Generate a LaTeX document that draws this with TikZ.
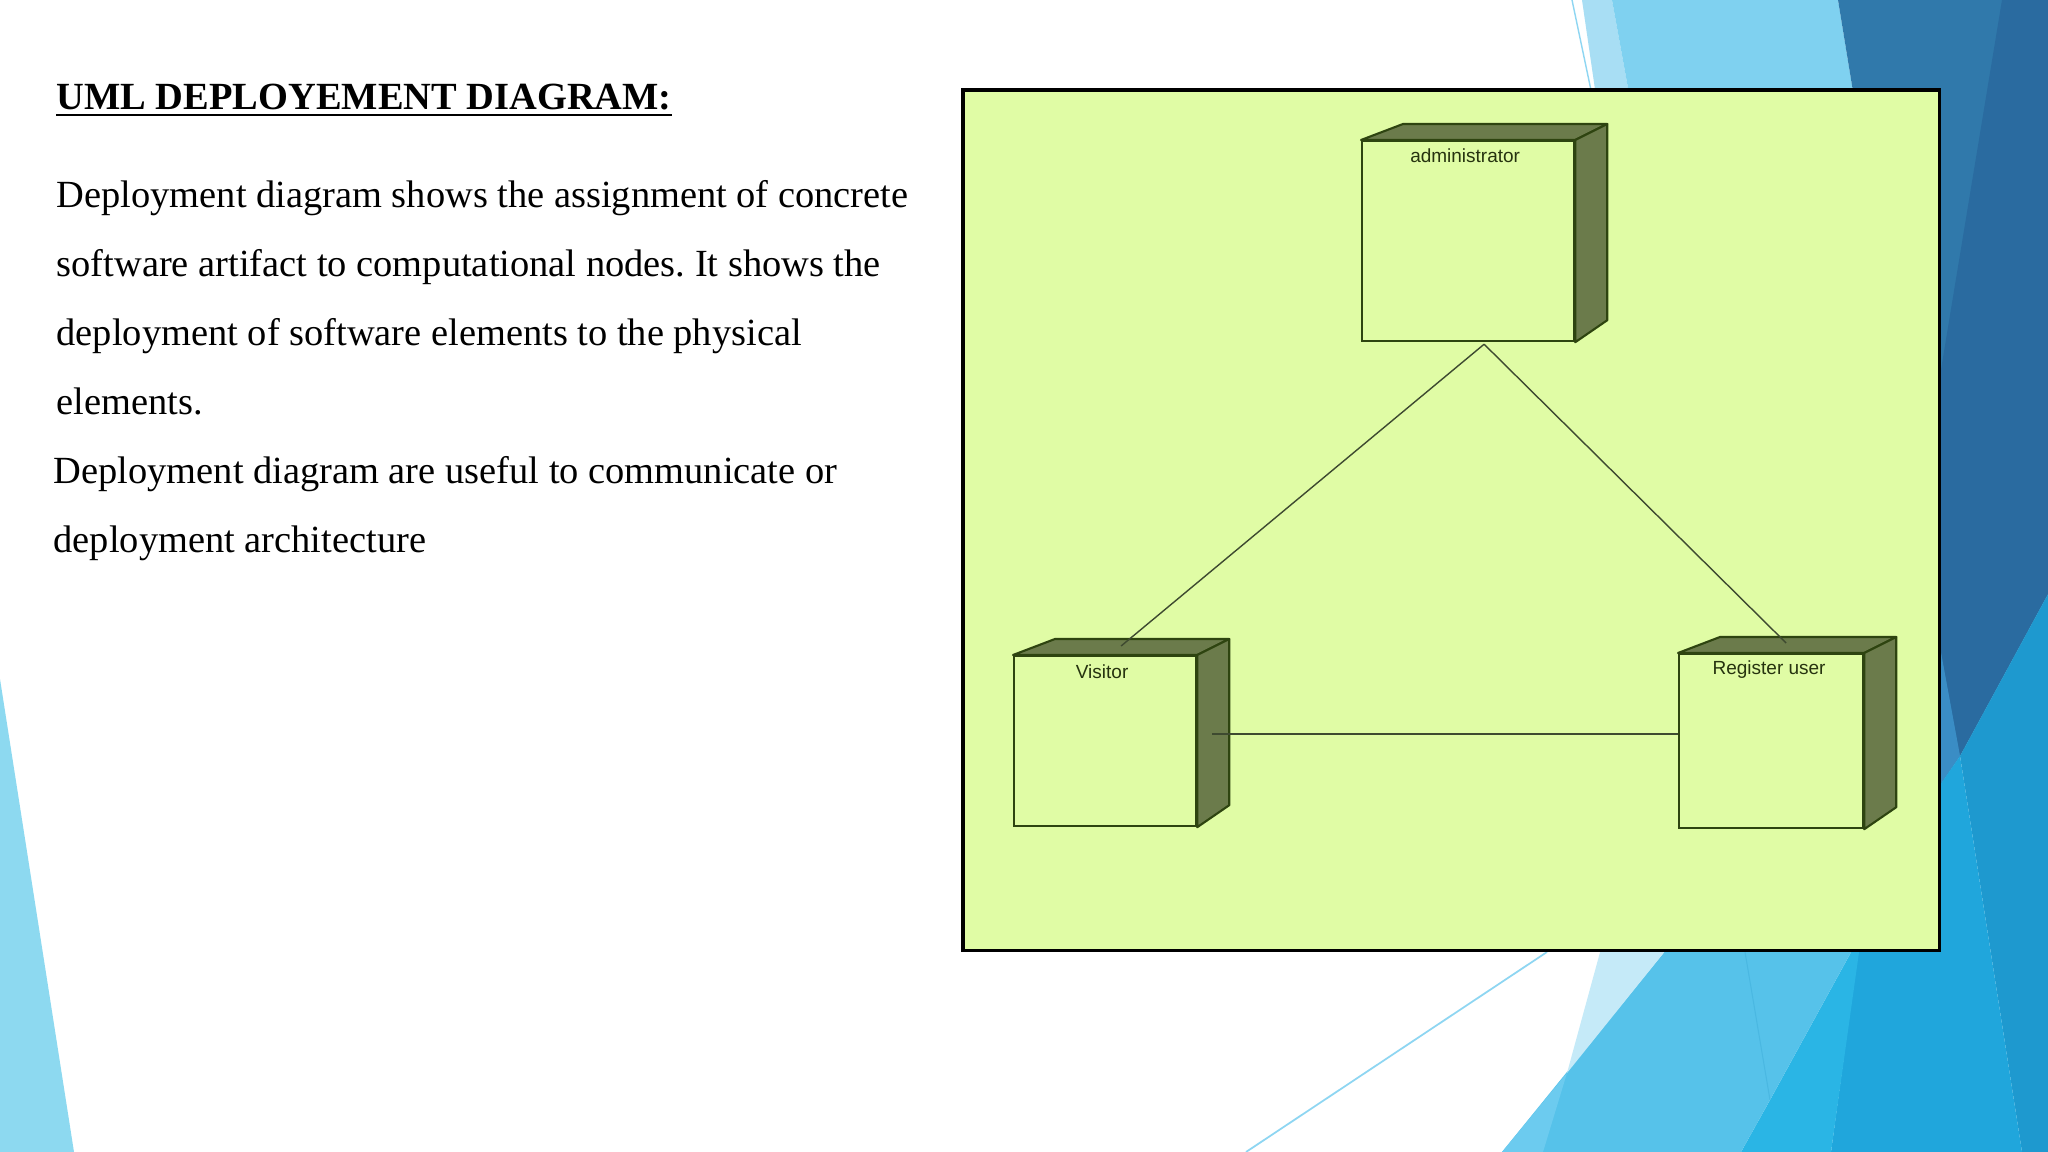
\documentclass[tikz,border=0pt]{standalone}
\usepackage{fontspec}
\setmainfont{Liberation Serif}
\newfontfamily\labelfont{Liberation Sans}
\usetikzlibrary{calc}
\frenchspacing
\definecolor{leftblue}{HTML}{8DD9F0}
\definecolor{paleblue}{HTML}{A8DEF4}
\definecolor{topblue}{HTML}{7FD1F0}
\definecolor{darkA}{HTML}{3079AB}
\definecolor{darkB}{HTML}{2A6BA0}
\definecolor{wedgeblue}{HTML}{3A8DC5}
\definecolor{medB}{HTML}{1E99CF}
\definecolor{medA}{HTML}{20A6DC}
\definecolor{brightA}{HTML}{2AB5E5}
\definecolor{skyA}{HTML}{56C2EA}
\definecolor{skyL}{HTML}{6CCBEF}
\definecolor{paleB}{HTML}{C5EAF8}
\definecolor{thinblue}{HTML}{8ED6F2}
\definecolor{diagfill}{HTML}{E0FCA5}
\definecolor{nodedark}{HTML}{6B7B4B}
\definecolor{nodeline}{HTML}{2E4410}
\definecolor{connline}{HTML}{3E4A30}
\definecolor{labelcol}{HTML}{26330F}
\definecolor{faintline}{HTML}{4AB8E2}
\tikzset{
  bodytext/.style={font=\fontsize{10.93}{13}\selectfont, anchor=base west, inner sep=0pt},
  umlfront/.style={draw=nodeline, fill=diagfill, line width=0.6pt, inner sep=0pt, anchor=north west},
  umlshade/.style={fill=nodedark, draw=nodeline, line width=0.6pt, line join=round},
  umllabel/.style={font=\labelfont\fontsize{5.4}{6.5}\selectfont, text=labelcol, anchor=base, inner sep=0pt},
  conn/.style={draw=connline, line width=0.4pt},
}
\begin{document}
\begin{tikzpicture}[x=0.01cm,y=-0.01cm]
\useasboundingbox (0,0) rectangle (2048,1152);
\fill[white] (0,0) rectangle (2048,1152);
% background facets
\fill[leftblue] (0,679) -- (74,1152) -- (0,1152) -- cycle;
\fill[paleblue] (1582,0) -- (1612,0) -- (1632,110) -- (1598,110) -- cycle;
\fill[topblue] (1612,0) -- (1838,0) -- (1856,110) -- (1632,110) -- cycle;
\draw[thinblue, line width=0.4pt] (1572,0) -- (1592,95);
\fill[darkA] (1838,0) -- (2048,0) -- (2048,594) -- (1960,756) -- (1930,800) -- (1930,110) -- (1856,110) -- cycle;
\fill[darkB] (2002,0) -- (2048,0) -- (2048,594) -- (1960,756) -- (1935,620) -- (1935,406) -- cycle;
\fill[wedgeblue] (1935,620) -- (1960,756) -- (1935,792) -- cycle;
\fill[medB] (1960,756) -- (2048,594) -- (2048,1152) -- (2022,1152) -- cycle;
\fill[medA] (1935,792) -- (1960,756) -- (2022,1152) -- (1831,1152) -- (1859,945) -- (1935,945) -- cycle;
\fill[brightA] (1855,945) -- (1860,945) -- (1831,1152) -- (1741,1152) -- (1770,1100) -- cycle;
\fill[skyA] (1670,945) -- (1855,945) -- (1770,1100) -- (1741,1152) -- (1502,1152) -- cycle;
\fill[paleB] (1602,945) -- (1670,945) -- (1567,1073) -- cycle;
\fill[skyL] (1567,1073) -- (1543,1152) -- (1502,1152) -- cycle;
\draw[faintline, line width=0.3pt] (1745,952) -- (1770,1100);
\draw[thinblue, line width=0.5pt] (1547,952) -- (1246,1152);
% text
\node[bodytext, font=\fontsize{10.93}{13}\selectfont\bfseries] (title) at (56,110) {UML DEPLOYEMENT DIAGRAM:};
\draw[line width=0.8pt] ($(title.base west)+(0,5)$) -- ($(title.base east)+(0,5)$);
\node[bodytext] (line1) at (56,208) {Deployment diagram shows the assignment of concrete};
\node[bodytext] (line2) at (56,277) {software artifact to computational nodes. It shows the};
\node[bodytext] (line3) at (56,346) {deployment of software elements to the physical};
\node[bodytext] (line4) at (56,415) {elements.};
\node[bodytext] (line5) at (53,484) {Deployment diagram are useful to communicate or};
\node[bodytext] (line6) at (53,553) {deployment architecture};
% diagram frame
\node[draw=black, fill=diagfill, line width=1pt, minimum width=9.76cm, minimum height=8.60cm, inner sep=0pt, anchor=north west] (frame) at (961,88) {};
% UML nodes
\node[umlfront, minimum width=2.12cm, minimum height=2.0cm] (admin) at (1361,140) {};
\node[umlfront, minimum width=1.82cm, minimum height=1.70cm] (visitor) at (1013,655) {};
\node[umlfront, minimum width=1.84cm, minimum height=1.74cm] (reguser) at (1678,653) {};
\foreach \n in {admin,visitor,reguser}{
  \draw[umlshade] (\n.north west) -- ++(42,-16) -- ($(\n.north east)+(32,-16)$) -- (\n.north east) -- cycle;
  \draw[umlshade] (\n.north east) -- ++(32,-16) -- ($(\n.south east)+(32,-22)$) -- (\n.south east) -- cycle;
}
\node[umllabel] (adminlabel) at ($(admin.north)+(-3,23)$) {administrator};
\node[umllabel] (visitorlabel) at ($(visitor.north)+(-3,23)$) {Visitor};
\node[umllabel] (reguserlabel) at ($(reguser.north)+(-2,22)$) {Register user};
% connectors
\coordinate (adminport) at ($(admin.south)+(16,2)$);
\coordinate (visitortop) at ($(visitor.north)+(16,-9)$);
\coordinate (regtop) at ($(reguser.north)+(15,-10)$);
\coordinate (visitorside) at ($(visitor.east)+(15,-7)$);
\draw[conn] (adminport) -- (visitortop);
\draw[conn] (adminport) -- (regtop);
\draw[conn] (visitorside) -- (visitorside -| reguser.west);
\end{tikzpicture}
\end{document}
